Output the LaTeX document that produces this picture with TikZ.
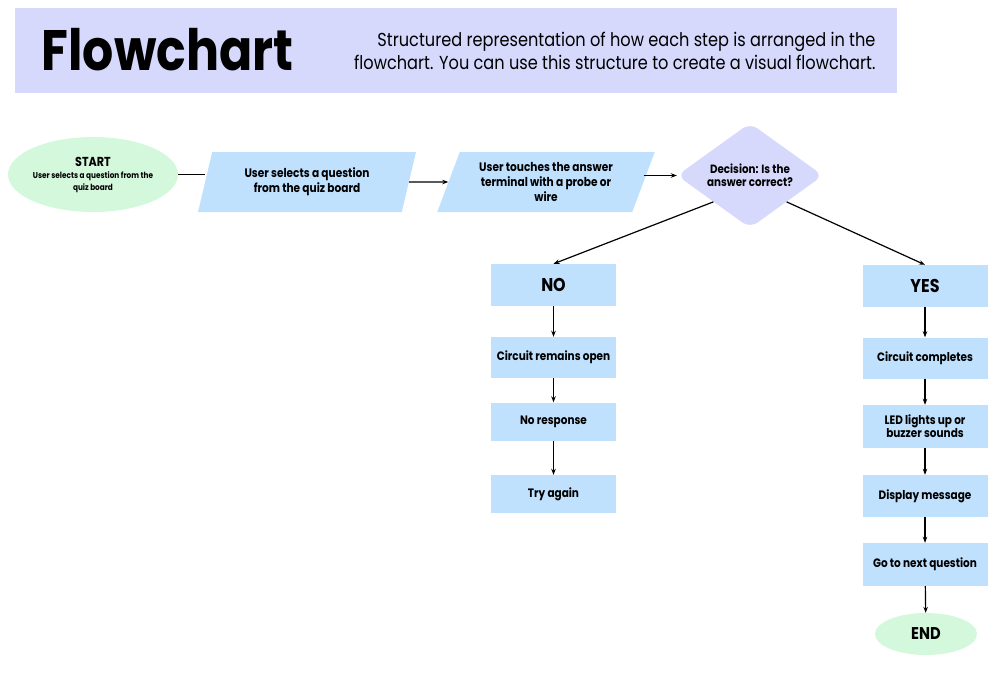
\documentclass[tikz,border=0pt]{standalone}
\usepackage{fontspec}
\setmainfont{Poppins}[FakeStretch=0.86]
\usepackage{tikz}
\usetikzlibrary{arrows.meta,positioning,calc,shapes.geometric}
\definecolor{bandc}{HTML}{D6D9FC}
\definecolor{stepc}{HTML}{BFE1FD}
\definecolor{termc}{HTML}{D4F8DB}
\definecolor{decc}{HTML}{D6D9FC}
\newcommand{\subsz}{\fontsize{8.5}{11}\selectfont}
\tikzset{
  >={Stealth[length=6pt,width=4.5pt]},
  band/.style={fill=bandc,minimum width=882pt,minimum height=85pt,inner sep=0pt},
  term/.style={ellipse,fill=termc,inner sep=0pt,align=center,font=\bfseries\fontsize{13}{14}\selectfont},
  io/.style={trapezium,trapezium stretches=true,fill=stepc,minimum width=218pt,minimum height=60pt,inner sep=0pt,align=center,font=\bfseries\fontsize{12.3}{15}\selectfont},
  decision/.style={diamond,aspect=1.39,fill=decc,rounded corners=9pt,minimum width=146pt,minimum height=105pt,inner sep=0pt,align=center,font=\bfseries\fontsize{12}{13}\selectfont},
  stepbox/.style={rectangle,fill=stepc,minimum width=125pt,minimum height=41pt,inner sep=0pt,align=center,font=\bfseries\fontsize{12.2}{13}\selectfont},
  big/.style={font=\bfseries\fontsize{18.5}{20}\selectfont},
  flow/.style={->,line width=1.2pt},
}

\begin{document}
\begin{tikzpicture}[x=1pt,y=-1pt]
  \useasboundingbox (0,0) rectangle (1000,680);
  % header
  \node[band] (hdr) at (456,50.5) {};
  \node[anchor=base west,font=\bfseries\fontsize{57}{62}\selectfont] (title) at (38,70) {Flowchart};
  \node[anchor=east,align=right,font=\fontsize{18.8}{23}\selectfont] (sub) at (879,51)
    {Structured representation of how each step is arranged in the\\flowchart. You can use this structure to create a visual flowchart.};
  % top row
  \node[term,minimum width=170pt,minimum height=75pt] (start) at (93,174.5)
    {START\\[-2pt]{\subsz User selects a question from the}\\[-2pt]{\subsz quiz board}};
  \node[io,trapezium left angle=71.6,trapezium right angle=108.4] (p1) at (307,182) {User selects a question\\from the quiz board};
  \node[io,trapezium left angle=66,trapezium right angle=114] (p2) at (546,182) {User touches the answer\\terminal with a probe or\\wire};
  \node[decision] (dec) at (750,175.5) {Decision: Is the\\answer correct?};
  \draw[line width=1.2pt] (start.east) -- (start.east -| p1.west);
  \draw[flow] (p1.east) -- (p2.west);
  \draw[flow] (dec.west -| p2.east) -- (dec.west);
  % NO branch
  \node[stepbox,big,minimum height=42pt] (no) at (553.5,285) {NO};
  \node[stepbox] (n1) at (553.5,357.5) {Circuit remains open};
  \node[stepbox,minimum height=38pt] (n2) at (553.5,421.5) {No response};
  \node[stepbox,minimum height=38pt] (n3) at (553.5,494) {Try again};
  % YES branch
  \node[stepbox,big,minimum height=42pt] (yes) at (925,286) {YES};
  \node[stepbox] (y1) at (925,358) {Circuit completes};
  \node[stepbox,minimum height=43pt] (y2) at (925,426.5) {LED lights up or\\buzzer sounds};
  \node[stepbox,minimum height=42pt] (y3) at (925,496) {Display message};
  \node[stepbox,minimum height=43pt] (y4) at (925,564.5) {Go to next question};
  \node[term,minimum width=102pt,minimum height=42pt,font=\bfseries\fontsize{17}{20}\selectfont] (stop) at (926,634) {END};
  \draw[flow] (dec.south west) -- (no.north);
  \draw[flow] (dec.south east) -- (yes.north);
  \foreach \a/\b in {no/n1,n1/n2,n2/n3,yes/y1,y1/y2,y2/y3,y3/y4,y4/stop}
    \draw[flow] (\a) -- (\b);
\end{tikzpicture}
\end{document}
